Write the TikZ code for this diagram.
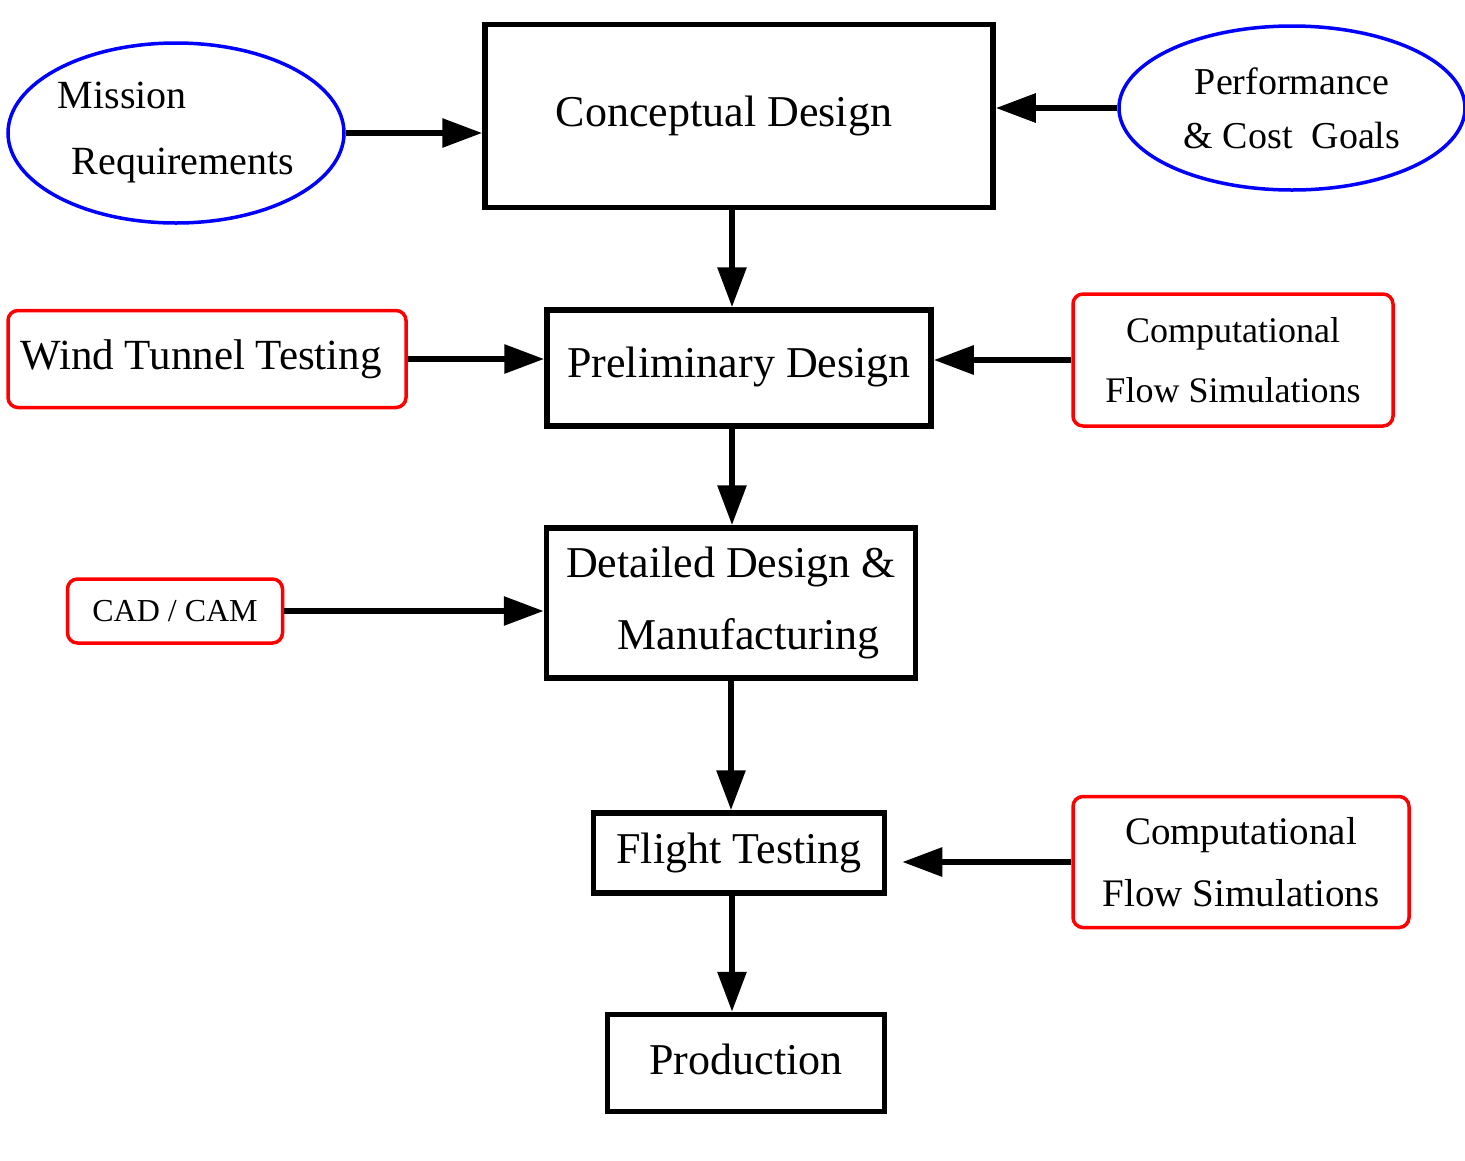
\documentclass[tikz,border=0pt]{standalone}
\usepackage{fontspec}
\setmainfont{Liberation Serif}
\usetikzlibrary{arrows.meta,shapes.geometric}
\begin{document}
\begin{tikzpicture}[x=1pt,y=-1pt,
  box/.style={draw,line width=5.5pt,inner sep=0pt,font=\fontsize{44}{52}\selectfont},
  oval/.style={draw=blue,line width=3.5pt,ellipse,inner sep=0pt,font=\fontsize{40}{66}\selectfont,align=left},
  rbox/.style={draw=red,line width=3.5pt,rounded corners=10pt,inner sep=0pt,font=\fontsize{36}{60}\selectfont,align=center},
  arr/.style={line width=6pt,-{Triangle[length=40pt,width=28pt]}}]
\useasboundingbox (0,0) rectangle (1465,1160);
\node[box,minimum width=508pt,minimum height=183pt] (concept) at (739,116) {\hspace{-30pt}Conceptual Design};
\node[box,minimum width=384pt,minimum height=116pt] (prelim) at (739,368) {\raisebox{12pt}{Preliminary Design}};
\node[box,minimum width=369pt,minimum height=150pt,align=center,font=\fontsize{44}{72}\selectfont] (detail) at (731,603) {Detailed Design \&\\\hspace{0.8em}Manufacturing};
\node[box,minimum width=291pt,minimum height=80pt] (flight) at (739,853) {Flight Testing};
\node[box,minimum width=277pt,minimum height=97pt] (prod) at (746,1063) {\raisebox{8pt}{Production}\hspace{40pt}};
\node[oval,minimum width=336pt,minimum height=180pt] (mission) at (176,133) {Mission\\\hspace{0.35em}Requirements};
\node[oval,minimum width=346pt,minimum height=164pt,align=center,font=\fontsize{38}{54}\selectfont] (perf) at (1292,108) {Performance\\\& Cost\ \ Goals};
\node[rbox,minimum width=398pt,minimum height=97pt,font=\fontsize{43}{50}\selectfont] (wind) at (207,359) {\hspace{-12pt}Wind Tunnel Testing};
\node[rbox,minimum width=320pt,minimum height=132pt] (cfs1) at (1233,360) {Computational\\Flow Simulations};
\node[rbox,minimum width=215pt,minimum height=64pt,font=\fontsize{32}{38}\selectfont] (cad) at (175,611) {CAD / CAM};
\node[rbox,minimum width=336pt,minimum height=131pt,font=\fontsize{39}{62}\selectfont] (cfs2) at (1241,862) {Computational\\Flow Simulations};
\draw[arr] (mission.east) -- (mission.east -| concept.west);
\draw[arr] (perf.west) -- (perf.west -| concept.east);
\draw[arr] ([xshift=-7pt]concept.south) -- ([xshift=-7pt]concept.south |- prelim.north);
\draw[arr] (wind.east) -- (wind.east -| prelim.west);
\draw[arr] (cfs1.west) -- (cfs1.west -| prelim.east);
\draw[arr] ([xshift=-7pt]prelim.south) -- ([xshift=-7pt]prelim.south |- detail.north);
\draw[arr] (cad.east) -- (cad.east -| detail.west);
\draw[arr] (detail.south) -- (detail.south |- flight.north);
\draw[arr,shorten >=15pt] (cfs2.west) -- (cfs2.west -| flight.east);
\draw[arr] ([xshift=-7pt]flight.south) -- ([xshift=-7pt]flight.south |- prod.north);
\end{tikzpicture}
\end{document}
